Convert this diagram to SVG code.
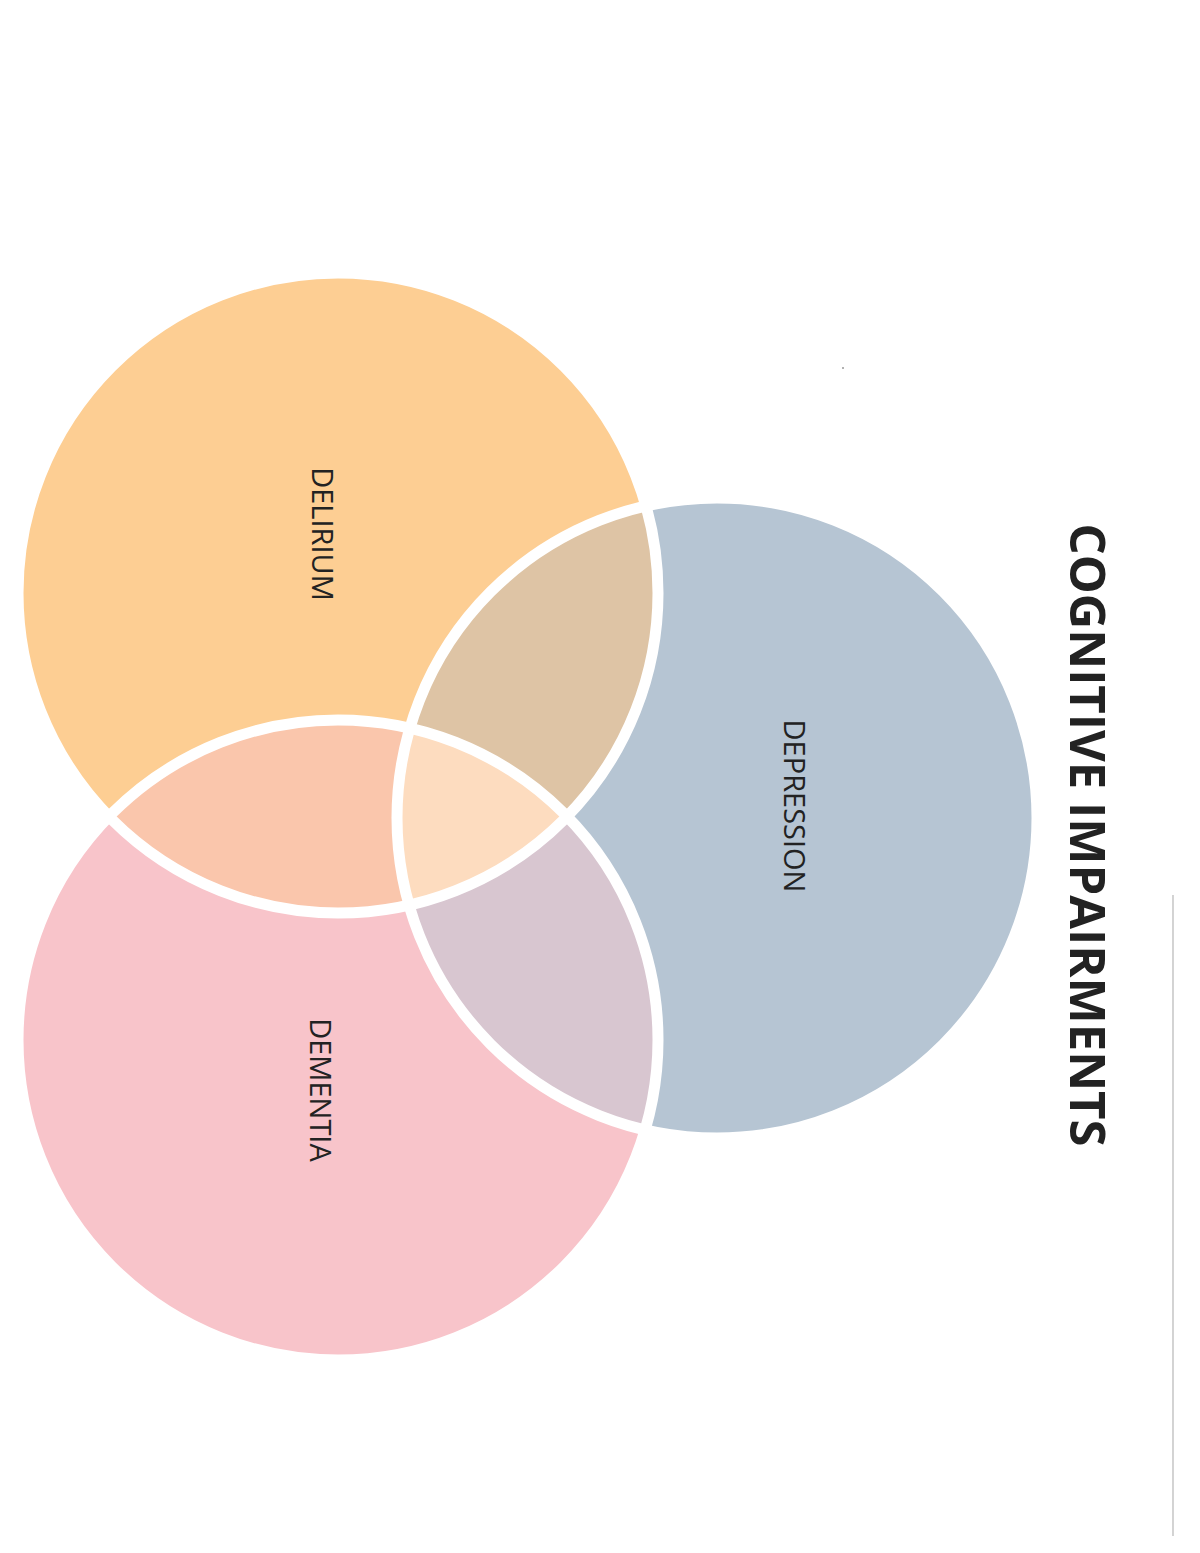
<svg xmlns="http://www.w3.org/2000/svg" width="1200" height="1553" viewBox="0 0 1200 1553">
  <style>
    .label { font-family: "Open Sans", "Liberation Sans", sans-serif; font-size: 29px; fill: #222222; text-anchor: middle; dominant-baseline: central; }
    .title { font-family: "Open Sans", "Liberation Sans", sans-serif; font-size: 49px; font-weight: bold; fill: #222222; text-anchor: middle; dominant-baseline: central; }
    .outline { fill: none; stroke: #ffffff; stroke-width: 11; }
  </style>
  <defs>
    <clipPath id="clipDelirium"><circle cx="338" cy="593" r="320"/></clipPath>
    <clipPath id="clipDepression"><circle cx="717" cy="818" r="320"/></clipPath>
    <clipPath id="clipDementia"><circle cx="338" cy="1040" r="320"/></clipPath>
  </defs>
  <rect x="0" y="0" width="1200" height="1553" fill="#ffffff"/>

  <!-- scan artifacts -->
  <line x1="1173" y1="895" x2="1173" y2="1536" stroke="#c9c9c9" stroke-width="1.6"/>
  <circle cx="843" cy="368" r="1" fill="#999999"/>

  <g id="delirium">
    <circle cx="338" cy="593" r="320" fill="#FDCE93"/>
  </g>
  <g id="depression">
    <circle cx="717" cy="818" r="320" fill="#B6C5D3"/>
  </g>
  <g id="dementia">
    <circle cx="338" cy="1040" r="320" fill="#F8C4CA"/>
  </g>

  <g id="overlaps">
    <circle cx="717" cy="818" r="320" fill="#DEC4A5" clip-path="url(#clipDelirium)"/>
    <circle cx="338" cy="1040" r="320" fill="#FAC6AC" clip-path="url(#clipDelirium)"/>
    <circle cx="338" cy="1040" r="320" fill="#D8C6D0" clip-path="url(#clipDepression)"/>
    <g clip-path="url(#clipDelirium)">
      <circle cx="338" cy="1040" r="320" fill="#FDDCBF" clip-path="url(#clipDepression)"/>
    </g>
  </g>

  <g id="outlines">
    <circle class="outline" cx="338" cy="593" r="320"/>
    <circle class="outline" cx="717" cy="818" r="320"/>
    <circle class="outline" cx="338" cy="1040" r="320"/>
  </g>

  <g id="labels">
    <text class="label" transform="translate(323,534) rotate(90)">DELIRIUM</text>
    <text class="label" transform="translate(795,806) rotate(90)">DEPRESSION</text>
    <text class="label" transform="translate(321,1090) rotate(90)">DEMENTIA</text>
  </g>

  <g id="title">
    <text class="title" transform="translate(1089,835) rotate(90)">COGNITIVE IMPAIRMENTS</text>
  </g>
</svg>
